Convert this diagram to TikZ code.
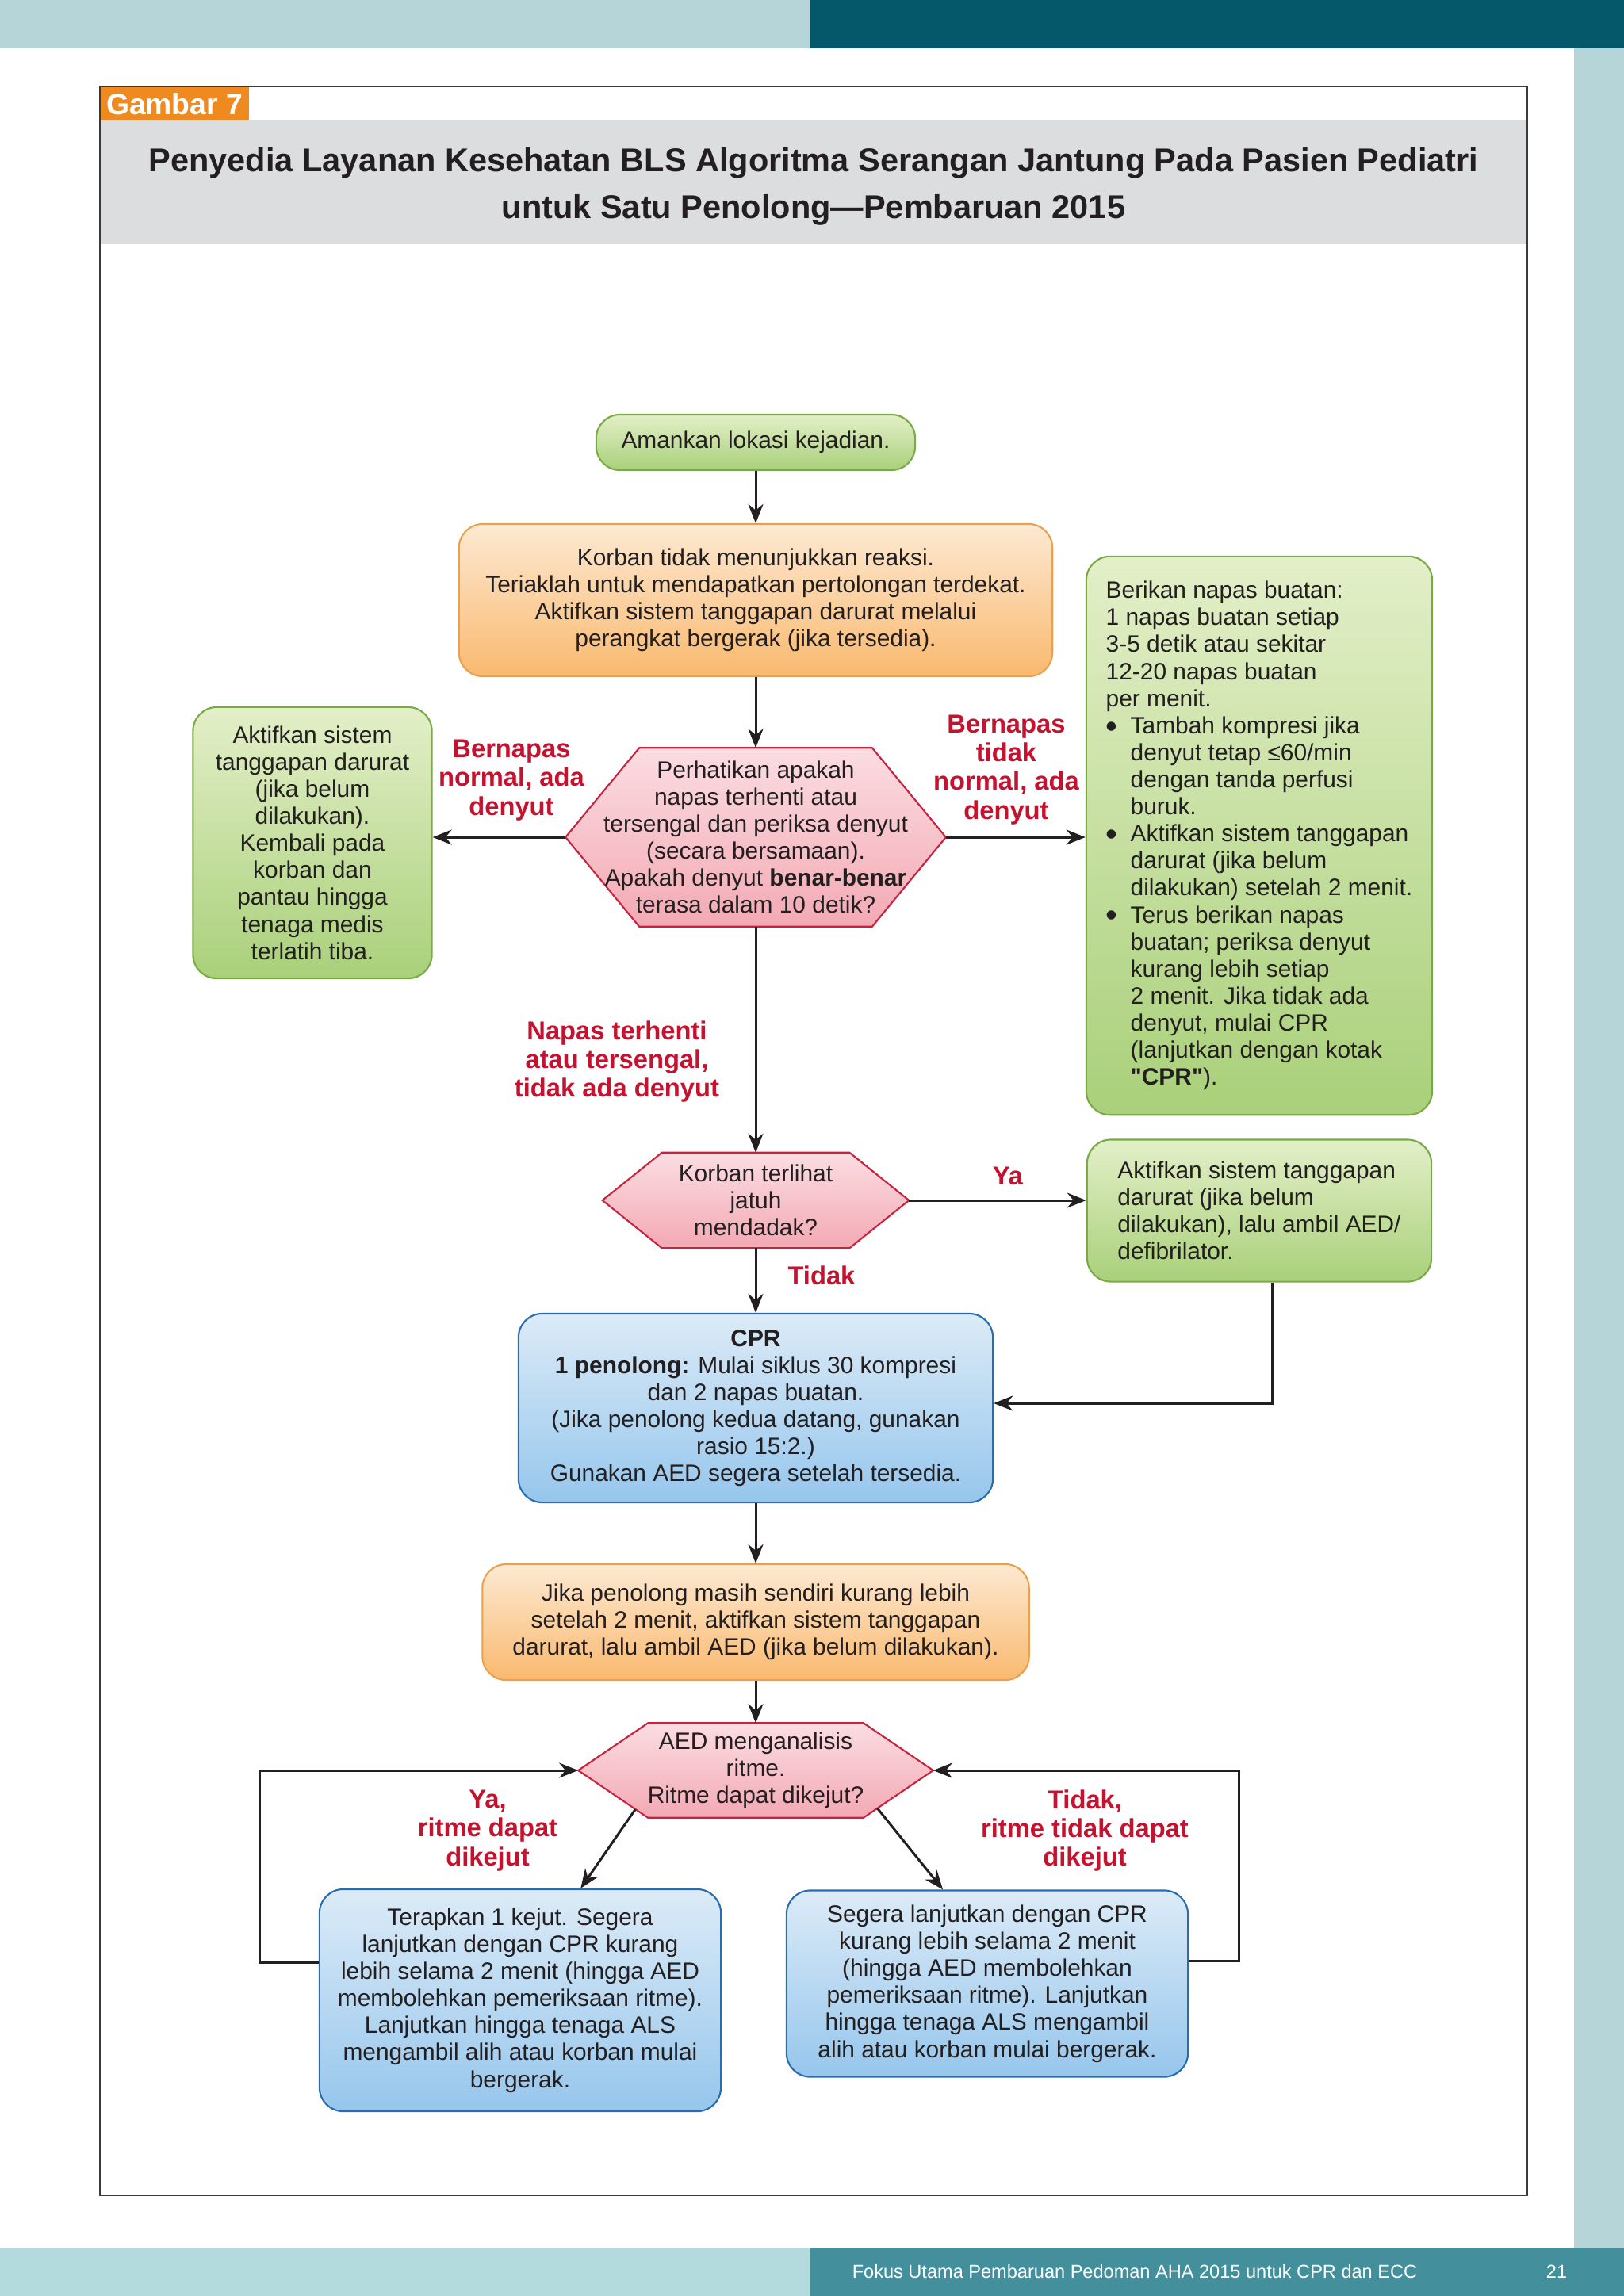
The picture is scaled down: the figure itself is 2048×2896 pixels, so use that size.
\documentclass[tikz,border=0pt]{standalone}
\usepackage{fontspec}
\setmainfont{Liberation Sans}
\usetikzlibrary{arrows.meta,calc}
\pgfdeclarelayer{background}
\pgfsetlayers{background,main}

\definecolor{tealpale}{HTML}{B5D5D9}
\definecolor{tealdark}{HTML}{04586A}
\definecolor{tealmid}{HTML}{43909C}
\definecolor{tealfoot}{HTML}{B3DBDE}
\definecolor{bandgray}{HTML}{DCDDDF}
\definecolor{framegray}{HTML}{3A3A3C}
\definecolor{tagorange}{HTML}{EE8A1F}
\definecolor{inkdark}{HTML}{231F20}
\definecolor{labelred}{HTML}{C4122F}
\definecolor{greentop}{HTML}{E3EFC8}
\definecolor{greenbot}{HTML}{A9D07A}
\definecolor{greenline}{HTML}{7AAA46}
\definecolor{orangetop}{HTML}{FDE9D2}
\definecolor{orangebot}{HTML}{F9B96F}
\definecolor{orangeline}{HTML}{E9A24B}
\definecolor{bluetop}{HTML}{DCEBF7}
\definecolor{bluebot}{HTML}{96C6EC}
\definecolor{blueline}{HTML}{2A6DAE}
\definecolor{pinktop}{HTML}{FBDDE2}
\definecolor{pinkbot}{HTML}{F3A9B4}
\definecolor{pinkline}{HTML}{C8223F}

\newcommand\boxfont{\fontsize{8.5}{9.7}\selectfont}
\newcommand\lblfont{\bfseries\fontsize{9.3}{10.3}\selectfont}
\newcommand\bul{\makebox[0.31cm][l]{\raisebox{-0.3ex}{\large\textbullet}}}
\newcommand\ind{\hspace*{0.31cm}}

\begin{document}
\begin{tikzpicture}[x=0.01cm,y=-0.01cm,>={Stealth[length=0.24cm,width=0.19cm]},
    arr/.style={->,line width=0.85pt,draw=inkdark},
    box/.style={rounded corners=0.3cm,line width=0.6pt,align=center,font=\boxfont,
        text=inkdark,inner sep=0pt},
    greenbox/.style={box,draw=greenline,top color=greentop,bottom color=greenbot},
    orangebox/.style={box,draw=orangeline,top color=orangetop,bottom color=orangebot},
    bluebox/.style={box,draw=blueline,top color=bluetop,bottom color=bluebot},
    hexa/.style={align=center,font=\boxfont,text=inkdark,inner sep=0pt},
    hexline/.style={line width=0.6pt,draw=pinkline,top color=pinktop,bottom color=pinkbot},
    redlbl/.style={align=center,font=\lblfont,text=labelred}]

\useasboundingbox (0,0) rectangle (2048,2896);

% page bands
\fill[tealpale] (0,0) rectangle (1022,61);
\fill[tealdark] (1022,0) rectangle (2048,61);
\fill[tealpale] (1985,61) rectangle (2048,2835);
\fill[tealfoot] (0,2835) rectangle (1022,2896);
\fill[tealmid] (1022,2835) rectangle (2048,2896);
\node[text=white,font=\fontsize{6.7}{8}\selectfont] (foot) at (1431,2865)
    {Fokus Utama Pembaruan Pedoman AHA 2015 untuk CPR dan ECC};
\node[text=white,font=\fontsize{6.7}{8}\selectfont] (pagenum) at (1963,2865) {21};

% frame and title
\fill[bandgray] (126,151) rectangle (1926,308);
\draw[line width=0.7pt,framegray] (126,109) rectangle (1926,2769);
\fill[tagorange] (127,110) rectangle (314,151);
\node[text=white,font=\bfseries\fontsize{10.6}{12}\selectfont] (tag) at (220,131) {Gambar 7};
\node[align=center,text=inkdark,font=\bfseries\fontsize{11.8}{16.8}\selectfont] (title) at (1026,235)
    {Penyedia Layanan Kesehatan BLS Algoritma Serangan Jantung Pada Pasien Pediatri\\
     untuk Satu Penolong---Pembaruan 2015};

% boxes
\node[greenbox,minimum width=4.02cm,minimum height=0.70cm] (aman) at (953,558)
    {Amankan lokasi kejadian.};
\node[orangebox,minimum width=7.48cm,minimum height=1.92cm] (korban) at (953,757)
    {Korban tidak menunjukkan reaksi.\\ Teriaklah untuk mendapatkan pertolongan terdekat.\\
     Aktifkan sistem tanggapan darurat melalui\\ perangkat bergerak (jika tersedia).};
\node[hexa,minimum width=4.78cm,minimum height=2.24cm] (hexA) at (953,1056)
    {Perhatikan apakah\\ napas terhenti atau\\ tersengal dan periksa denyut\\
     (secara bersamaan).\\ Apakah denyut \textbf{benar-benar}\\ terasa dalam 10 detik?};
\node[greenbox,minimum width=3.01cm,minimum height=3.42cm] (kiri) at (394,1063)
    {Aktifkan sistem\\ tanggapan darurat\\ (jika belum\\ dilakukan).\\ Kembali pada\\
     korban dan\\ pantau hingga\\ tenaga medis\\ terlatih tiba.};
\node[greenbox,align=left,minimum width=4.36cm,minimum height=7.04cm] (napas) at (1588,1054)
    {Berikan napas buatan:\\ 1 napas buatan setiap\\ 3-5 detik atau sekitar\\
     12-20 napas buatan\\ per menit.\\
     \bul Tambah kompresi jika\\ \ind denyut tetap ≤60/min\\ \ind dengan tanda perfusi\\ \ind buruk.\\
     \bul Aktifkan sistem tanggapan\\ \ind darurat (jika belum\\ \ind dilakukan) setelah 2 menit.\\
     \bul Terus berikan napas\\ \ind buatan; periksa denyut\\ \ind kurang lebih setiap\\
     \ind 2 menit. Jika tidak ada\\ \ind denyut, mulai CPR\\ \ind (lanjutkan dengan kotak\\
     \ind \textbf{\textquotedbl CPR\textquotedbl}).};
\node[hexa,minimum width=3.85cm,minimum height=1.19cm] (hexB) at (953,1514)
    {Korban terlihat\\ jatuh\\ mendadak?};
\node[greenbox,align=left,minimum width=4.34cm,minimum height=1.79cm] (aed) at (1588,1527)
    {Aktifkan sistem tanggapan\\ darurat (jika belum\\ dilakukan), lalu ambil AED/\\ defibrilator.};
\node[bluebox,minimum width=5.98cm,minimum height=2.38cm] (cpr) at (953,1776)
    {\textbf{CPR}\\ \textbf{1 penolong:} Mulai siklus 30 kompresi\\ dan 2 napas buatan.\\
     (Jika penolong kedua datang, gunakan\\ rasio 15:2.)\\ Gunakan AED segera setelah tersedia.};
\node[orangebox,minimum width=6.89cm,minimum height=1.46cm] (sendiri) at (953,2046)
    {Jika penolong masih sendiri kurang lebih\\ setelah 2 menit, aktifkan sistem tanggapan\\
     darurat, lalu ambil AED (jika belum dilakukan).};
\node[hexa,minimum width=4.46cm,minimum height=1.18cm] (hexC) at (953,2233)
    {AED menganalisis\\ ritme.\\ Ritme dapat dikejut?};
\node[bluebox,minimum width=5.06cm,minimum height=2.80cm] (kejut) at (656,2523)
    {Terapkan 1 kejut. Segera\\ lanjutkan dengan CPR kurang\\ lebih selama 2 menit (hingga AED\\
     membolehkan pemeriksaan ritme).\\ Lanjutkan hingga tenaga ALS\\ mengambil alih atau korban mulai\\
     bergerak.};
\node[bluebox,minimum width=5.06cm,minimum height=2.35cm] (lanjut) at (1245,2502)
    {Segera lanjutkan dengan CPR\\ kurang lebih selama 2 menit\\ (hingga AED membolehkan\\
     pemeriksaan ritme). Lanjutkan\\ hingga tenaga ALS mengambil\\ alih atau korban mulai bergerak.};

% hexagon outlines behind the decision texts
\begin{pgfonlayer}{background}
\fill[white] (0,61) rectangle (1985,2835);
\foreach \h/\d in {hexA/93,hexB/75,hexC/88}
    \draw[hexline] (\h.west) -- ($(\h.north west)+(\d,0)$) -- ($(\h.north east)+(-\d,0)$)
        -- (\h.east) -- ($(\h.south east)+(-\d,0)$) -- ($(\h.south west)+(\d,0)$) -- cycle;
\end{pgfonlayer}

% labels
\node[redlbl] (lblA) at (645,984) {Bernapas\\ normal, ada\\ denyut};
\node[redlbl] (lblB) at (1269,971) {Bernapas\\ tidak\\ normal, ada\\ denyut};
\node[redlbl] (lblC) at (778,1339) {Napas terhenti\\ atau tersengal,\\ tidak ada denyut};
\node[redlbl] (lblYa) at (1271,1483) {Ya};
\node[redlbl] (lblTidak) at (1036,1609) {Tidak};
\node[redlbl] (lblD) at (615,2309) {Ya,\\ ritme dapat\\ dikejut};
\node[redlbl] (lblE) at (1368,2309) {Tidak,\\ ritme tidak dapat\\ dikejut};

% connectors
\draw[arr] (aman) -- (korban);
\draw[arr] (korban) -- (hexA);
\draw[arr] (hexA.west) -- (kiri.east |- hexA.west);
\draw[arr] (hexA.east) -- (napas.west |- hexA.east);
\draw[arr] (hexA) -- (hexB);
\draw[arr] (hexB.east) -- (aed.west |- hexB.east);
\draw[arr] (hexB) -- (cpr);
\draw[arr] ([xshift=0.16cm]aed.south) |- ([yshift=0.06cm]cpr.east);
\draw[arr] (cpr) -- (sendiri);
\draw[arr] (sendiri) -- (hexC);
\coordinate (hexC-bl) at ($(hexC.south west)+(88,0)$);
\coordinate (hexC-br) at ($(hexC.south east)+(-88,0)$);
\draw[arr] ($(hexC.west)!0.82!(hexC-bl)$) -- ($(kejut.north west)!0.65!(kejut.north east)$);
\draw[arr] ($(hexC.east)!0.8!(hexC-br)$) -- ($(lanjut.north west)!0.39!(lanjut.north east)$);
\draw[arr] ([yshift=0.48cm]kejut.west) -- ++(-74,0) |- (hexC.west);
\draw[arr] ([yshift=0.29cm]lanjut.east) -- ++(63,0) |- (hexC.east);
\end{tikzpicture}
\end{document}
